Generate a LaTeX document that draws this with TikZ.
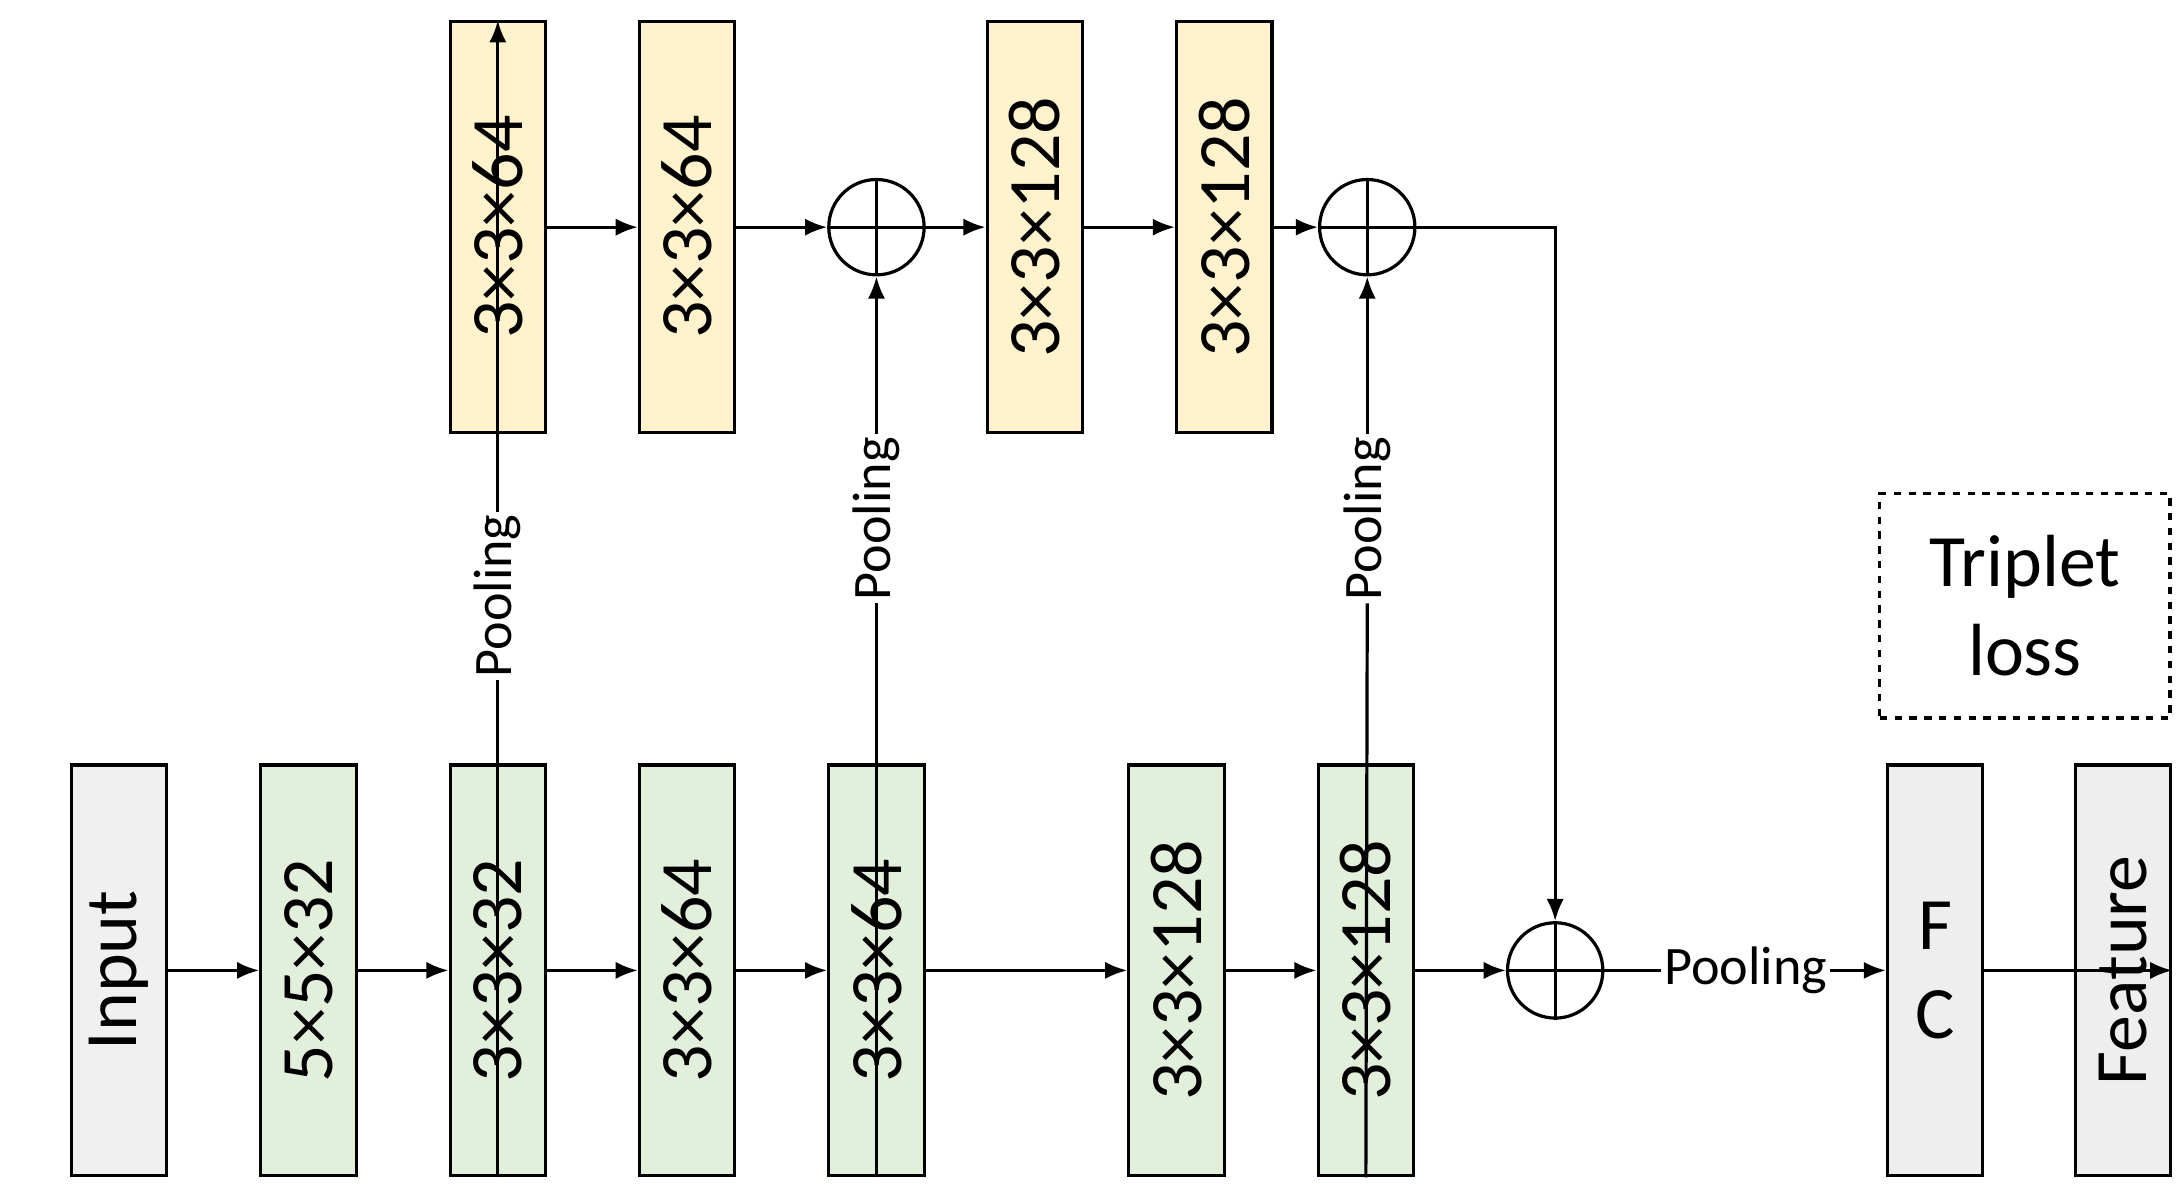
\documentclass[tikz,border=0pt]{standalone}
\usepackage{fontspec}
\setmainfont{Carlito}
\usetikzlibrary{arrows.meta}
\begin{document}
\begin{tikzpicture}[x=0.02cm,y=-0.02cm,
 blk/.style={draw,line width=1.3pt,rotate=90,minimum width=5.86cm,minimum height=1.36cm,inner sep=0pt,font=\fontsize{30}{36}\selectfont},
 gblk/.style={blk,fill=gray!12},
 grn/.style={blk,fill=green!8!cyan!3!white!90!green},
 yel/.style={blk,fill=yellow!20!orange!8!white},
 plus/.style={draw,circle,line width=1.3pt,minimum size=1.36cm,inner sep=0pt},
 pool/.style={font=\fontsize{22}{26}\selectfont,inner sep=1pt},
 arr/.style={line width=1.3pt,-{Latex[length=9pt,width=7pt]}},
 ln/.style={line width=1.3pt}]
\useasboundingbox (0,0) rectangle (1556,855);
\node[gblk] (in) at (85,692) {Input};
\node[grn,fill={rgb,255:red,226;green,239;blue,218}] (b1) at (220,692) {5×5×32};
\node[grn,fill={rgb,255:red,226;green,239;blue,218}] (b2) at (355,692) {3×3×32};
\node[grn,fill={rgb,255:red,226;green,239;blue,218}] (b3) at (490,692) {3×3×64};
\node[grn,fill={rgb,255:red,226;green,239;blue,218}] (b4) at (625,692) {3×3×64};
\node[grn,fill={rgb,255:red,226;green,239;blue,218}] (b5) at (839,692) {3×3×128};
\node[grn,fill={rgb,255:red,226;green,239;blue,218}] (b6) at (974,692) {3×3×128};
\node[yel,fill={rgb,255:red,255;green,242;blue,204}] (t1) at (355,162) {3×3×64};
\node[yel,fill={rgb,255:red,255;green,242;blue,204}] (t2) at (490,162) {3×3×64};
\node[yel,fill={rgb,255:red,255;green,242;blue,204}] (t3) at (738,162) {3×3×128};
\node[yel,fill={rgb,255:red,255;green,242;blue,204}] (t4) at (873,162) {3×3×128};
\node[plus] (c1) at (625,162) {};
\node[plus] (c2) at (975,162) {};
\node[plus] (c3) at (1109,692) {};
\foreach \c in {c1,c2,c3}{\draw[ln] (\c.north)--(\c.south) (\c.west)--(\c.east);}
\node[draw,line width=1.3pt,minimum width=1.36cm,minimum height=5.86cm,fill={rgb,255:red,238;green,238;blue,238},font=\fontsize{30}{36}\selectfont,align=center] (fc) at (1380,692) {F\\C};
\node[gblk,fill={rgb,255:red,238;green,238;blue,238}] (ft) at (1514,692) {Feature};
\node[draw,dashed,line width=1.3pt,minimum width=4.14cm,minimum height=3.2cm,align=center,font=\fontsize{30}{36}\selectfont] (tl) at (1444,432) {Triplet\\loss};
\draw[arr] (in)--(b1); \draw[arr] (b1)--(b2); \draw[arr] (b2)--(b3); \draw[arr] (b3)--(b4);
\draw[arr] (b4)--(b5); \draw[arr] (b5)--(b6); \draw[arr] (b6)--(c3);
\draw[arr] (t1)--(t2); \draw[arr] (t2)--(c1); \draw[arr] (c1)--(t3); \draw[arr] (t3)--(t4); \draw[arr] (t4)--(c2);
\node[pool,rotate=90] (p1) at (355,425) {Pooling};
\node[pool,rotate=90] (p2) at (625,370) {Pooling};
\node[pool,rotate=90] (p3) at (975,370) {Pooling};
\node[pool] (p4) at (1245,692) {Pooling};
\draw[ln] (b2.west)--(p1.west); \draw[arr] (p1.east)--(t1.east);
\draw[ln] (b4.west)--(p2.west); \draw[arr] (p2.east)--(c1.south);
\draw[ln] (b6.west)--(p3.west); \draw[arr] (p3.east)--(c2.south);
\draw[ln] (c3.east)--(p4.west); \draw[arr] (p4.east)--(fc.west);
\draw[arr] (fc.east)--(ft.south);
\coordinate (k) at (1109,162);
\draw[arr] (c2.east)--(k)--(c3.north);
\end{tikzpicture}
\end{document}
